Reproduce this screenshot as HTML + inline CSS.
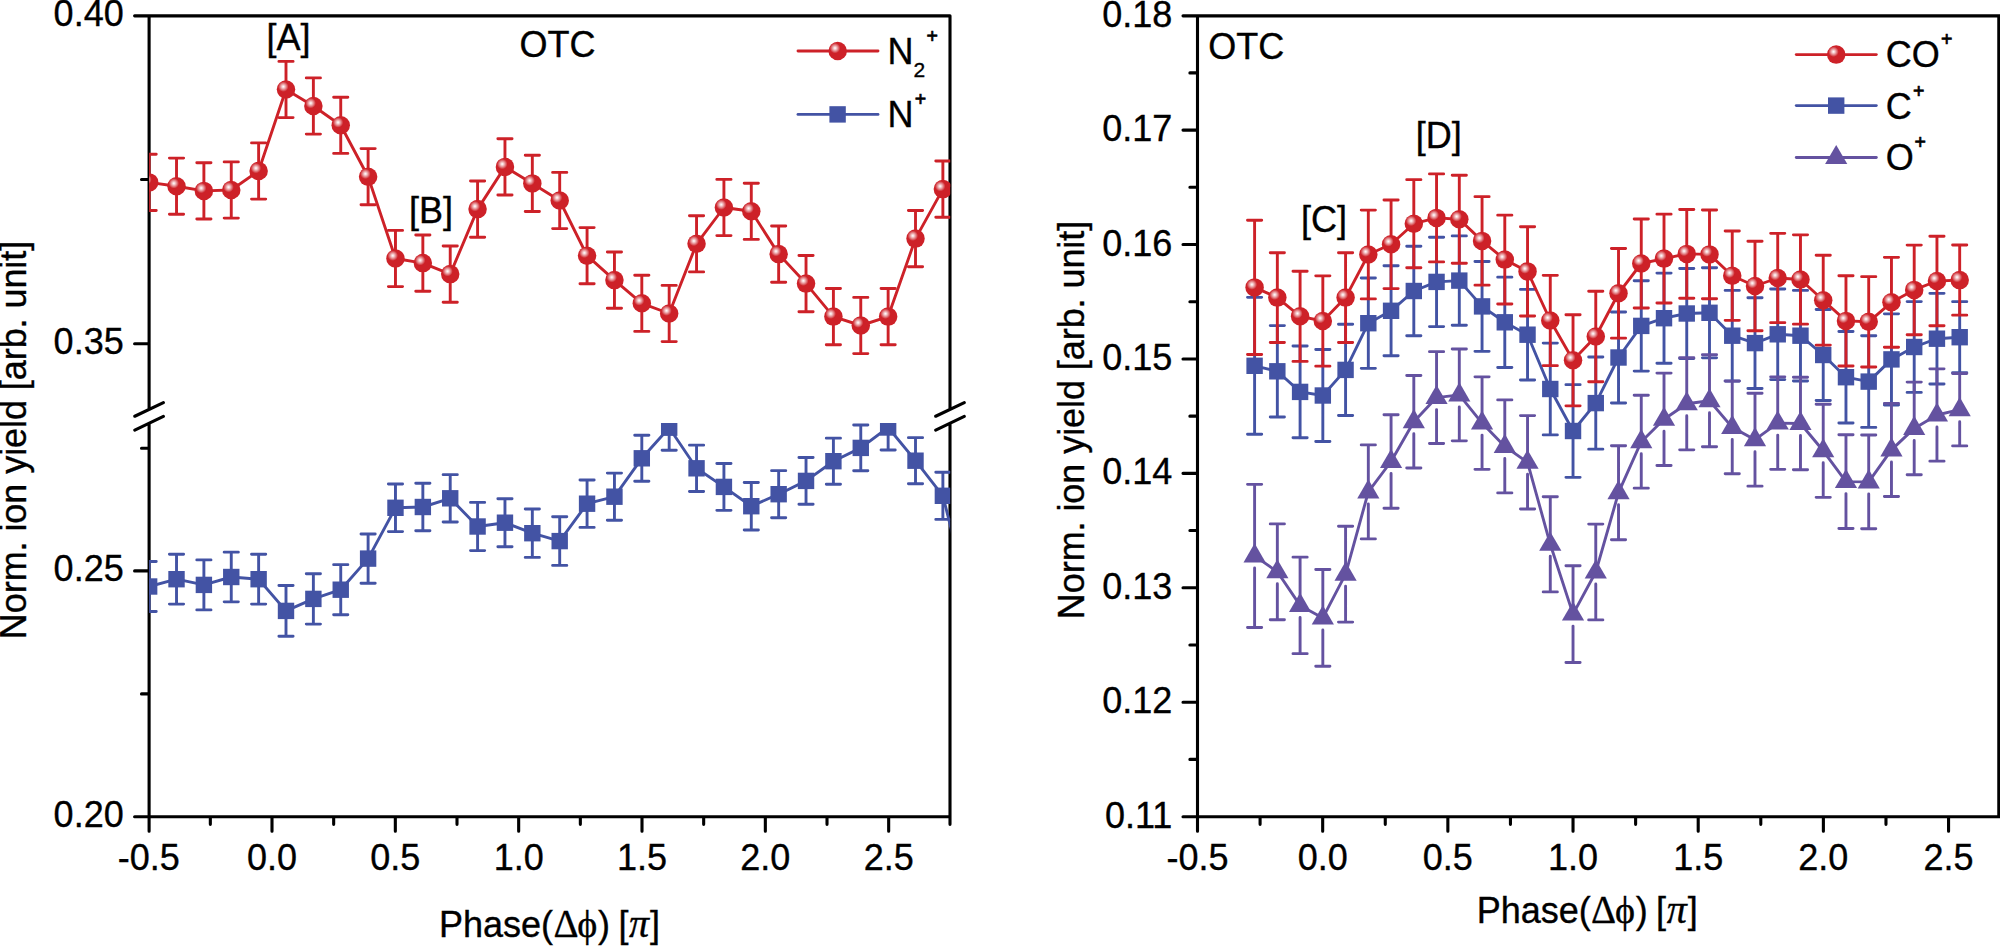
<!DOCTYPE html>
<html lang="en"><head><meta charset="utf-8"><title>Normalized ion yield vs phase</title>
<style>
html,body{margin:0;padding:0;background:#fff}
body{width:2000px;height:946px;overflow:hidden}
svg{display:block}
text{fill:#000;stroke:#000;stroke-width:0.35px}
</style></head><body>
<svg width="2000" height="946" viewBox="0 0 2000 946">
<defs>
<radialGradient id="ball" gradientUnits="objectBoundingBox" cx="0.355" cy="0.345" r="0.28" fx="0.355" fy="0.345">
<stop offset="0" stop-color="#ffffff"/><stop offset="0.2" stop-color="#f8dcdd"/><stop offset="0.55" stop-color="#e58d91"/><stop offset="1" stop-color="#cd2128"/>
</radialGradient>
<clipPath id="cLtop"><rect x="149.1" y="15.85" width="801.1" height="393.6"/></clipPath>
<clipPath id="cLbot"><rect x="149.1" y="423" width="801.1" height="393.6"/></clipPath>
<clipPath id="cR"><rect x="1197.5" y="15" width="801" height="802"/></clipPath>
</defs>
<rect width="2000" height="946" fill="#fff"/>

<g fill="none" stroke="#000" stroke-width="3.1" stroke-linecap="round" stroke-linejoin="round">
<path d="M134.6 15.85H950.0V409.4M950.0 423.3V816.75H134.6M149.1 15.85V409.4M149.1 423.3V831.25M272 816.75v14.5M395.33 816.75v14.5M518.67 816.75v14.5M642 816.75v14.5M765.34 816.75v14.5M888.67 816.75v14.5M210.33 816.75v7.6M333.67 816.75v7.6M457 816.75v7.6M580.34 816.75v7.6M703.67 816.75v7.6M827.01 816.75v7.6M950 816.75v7.6M149.1 343.8h-14.5M149.1 570.9h-14.5M149.1 179.5h-7.6M149.1 448.2h-7.6M149.1 693.9h-7.6M134.79999999999998 416.25L163.4 402.54999999999995M134.79999999999998 430.15000000000003L163.4 416.45M935.7 416.25L964.3 402.54999999999995M935.7 430.15000000000003L964.3 416.45"/></g>
<g clip-path="url(#cLbot)">
<path d="M149.15 561.48V611.52M142.05 561.48H156.25M142.05 611.52H156.25M176.52 554.3V604.1M169.42 554.3H183.62M169.42 604.1H183.62M203.89 559.91V609.89M196.79 559.91H210.99M196.79 609.89H210.99M231.26 552.13V601.87M224.16 552.13H238.36M224.16 601.87H238.36M258.63 554.3V604.1M251.53 554.3H265.73M251.53 604.1H265.73M286 585.5V636.3M278.9 585.5H293.1M278.9 636.3H293.1M313.37 573.69V624.11M306.27 573.69H320.47M306.27 624.11H320.47M340.74 564.63V614.77M333.64 564.63H347.84M333.64 614.77H347.84M368.11 534.02V583.18M361.01 534.02H375.21M361.01 583.18H375.21M395.48 484.02V531.58M388.38 484.02H402.58M388.38 531.58H402.58M422.85 483.23V530.77M415.75 483.23H429.95M415.75 530.77H429.95M450.22 474.67V521.93M443.12 474.67H457.32M443.12 521.93H457.32M477.59 502.42V550.58M470.49 502.42H484.69M470.49 550.58H484.69M504.96 498.68V546.72M497.86 498.68H512.06M497.86 546.72H512.06M532.33 509.02V557.38M525.23 509.02H539.43M525.23 557.38H539.43M559.7 516.8V565.4M552.6 516.8H566.8M552.6 565.4H566.8M587.07 479.98V527.42M579.97 479.98H594.17M579.97 527.42H594.17M614.44 473.09V520.31M607.34 473.09H621.54M607.34 520.31H621.54M641.81 435.3V481.3M634.71 435.3H648.91M634.71 481.3H648.91M669.18 405.18V450.22M662.08 405.18H676.28M662.08 450.22H676.28M696.55 445.14V491.46M689.45 445.14H703.65M689.45 491.46H703.65M723.92 463.45V510.35M716.82 463.45H731.02M716.82 510.35H731.02M751.29 482.44V529.96M744.19 482.44H758.39M744.19 529.96H758.39M778.66 470.63V517.77M771.56 470.63H785.76M771.56 517.77H785.76M806.03 457.54V504.26M798.93 457.54H813.13M798.93 504.26H813.13M833.4 438.15V484.25M826.3 438.15H840.5M826.3 484.25H840.5M860.77 425.06V470.74M853.67 425.06H867.87M853.67 470.74H867.87M888.14 404.98V450.02M881.04 404.98H895.24M881.04 450.02H895.24M915.51 437.66V483.74M908.41 437.66H922.61M908.41 483.74H922.61M942.88 472.21V519.39M935.78 472.21H949.98M935.78 519.39H949.98M970.25 579.69V630.31M963.15 579.69H977.35M963.15 630.31H977.35" fill="none" stroke="#4353a4" stroke-width="2.9" stroke-linecap="round"/>
<polyline points="149.15,586.5 176.52,579.2 203.89,584.9 231.26,577 258.63,579.2 286,610.9 313.37,598.9 340.74,589.7 368.11,558.6 395.48,507.8 422.85,507 450.22,498.3 477.59,526.5 504.96,522.7 532.33,533.2 559.7,541.1 587.07,503.7 614.44,496.7 641.81,458.3 669.18,427.7 696.55,468.3 723.92,486.9 751.29,506.2 778.66,494.2 806.03,480.9 833.4,461.2 860.77,447.9 888.14,427.5 915.51,460.7 942.88,495.8 970.25,605" fill="none" stroke="#4353a4" stroke-width="2.9" stroke-linejoin="round"/>
<rect x="140.95" y="578.3" width="16.4" height="16.4" fill="#4353a4"/>
<rect x="168.32" y="571" width="16.4" height="16.4" fill="#4353a4"/>
<rect x="195.69" y="576.7" width="16.4" height="16.4" fill="#4353a4"/>
<rect x="223.06" y="568.8" width="16.4" height="16.4" fill="#4353a4"/>
<rect x="250.43" y="571" width="16.4" height="16.4" fill="#4353a4"/>
<rect x="277.8" y="602.7" width="16.4" height="16.4" fill="#4353a4"/>
<rect x="305.17" y="590.7" width="16.4" height="16.4" fill="#4353a4"/>
<rect x="332.54" y="581.5" width="16.4" height="16.4" fill="#4353a4"/>
<rect x="359.91" y="550.4" width="16.4" height="16.4" fill="#4353a4"/>
<rect x="387.28" y="499.6" width="16.4" height="16.4" fill="#4353a4"/>
<rect x="414.65" y="498.8" width="16.4" height="16.4" fill="#4353a4"/>
<rect x="442.02" y="490.1" width="16.4" height="16.4" fill="#4353a4"/>
<rect x="469.39" y="518.3" width="16.4" height="16.4" fill="#4353a4"/>
<rect x="496.76" y="514.5" width="16.4" height="16.4" fill="#4353a4"/>
<rect x="524.13" y="525" width="16.4" height="16.4" fill="#4353a4"/>
<rect x="551.5" y="532.9" width="16.4" height="16.4" fill="#4353a4"/>
<rect x="578.87" y="495.5" width="16.4" height="16.4" fill="#4353a4"/>
<rect x="606.24" y="488.5" width="16.4" height="16.4" fill="#4353a4"/>
<rect x="633.61" y="450.1" width="16.4" height="16.4" fill="#4353a4"/>
<rect x="660.98" y="419.5" width="16.4" height="16.4" fill="#4353a4"/>
<rect x="688.35" y="460.1" width="16.4" height="16.4" fill="#4353a4"/>
<rect x="715.72" y="478.7" width="16.4" height="16.4" fill="#4353a4"/>
<rect x="743.09" y="498" width="16.4" height="16.4" fill="#4353a4"/>
<rect x="770.46" y="486" width="16.4" height="16.4" fill="#4353a4"/>
<rect x="797.83" y="472.7" width="16.4" height="16.4" fill="#4353a4"/>
<rect x="825.2" y="453" width="16.4" height="16.4" fill="#4353a4"/>
<rect x="852.57" y="439.7" width="16.4" height="16.4" fill="#4353a4"/>
<rect x="879.94" y="419.3" width="16.4" height="16.4" fill="#4353a4"/>
<rect x="907.31" y="452.5" width="16.4" height="16.4" fill="#4353a4"/>
<rect x="934.68" y="487.6" width="16.4" height="16.4" fill="#4353a4"/>
<rect x="962.05" y="596.8" width="16.4" height="16.4" fill="#4353a4"/>
</g>
<g clip-path="url(#cLtop)">
<path d="M149.15 154.3V210.5M142.05 154.3H156.25M142.05 210.5H156.25M176.52 158.1V214.3M169.42 158.1H183.62M169.42 214.3H183.62M203.89 162.8V219M196.79 162.8H210.99M196.79 219H210.99M231.26 161.9V218.1M224.16 161.9H238.36M224.16 218.1H238.36M258.63 142.9V199.1M251.53 142.9H265.73M251.53 199.1H265.73M286 61.4V117.6M278.9 61.4H293.1M278.9 117.6H293.1M313.37 77.9V134.1M306.27 77.9H320.47M306.27 134.1H320.47M340.74 97.2V153.4M333.64 97.2H347.84M333.64 153.4H347.84M368.11 148.6V204.8M361.01 148.6H375.21M361.01 204.8H375.21M395.48 230.4V286.6M388.38 230.4H402.58M388.38 286.6H402.58M422.85 235V291.2M415.75 235H429.95M415.75 291.2H429.95M450.22 246V302.2M443.12 246H457.32M443.12 302.2H457.32M477.59 181V237.2M470.49 181H484.69M470.49 237.2H484.69M504.96 138.8V195M497.86 138.8H512.06M497.86 195H512.06M532.33 155.3V211.5M525.23 155.3H539.43M525.23 211.5H539.43M559.7 172.4V228.6M552.6 172.4H566.8M552.6 228.6H566.8M587.07 227.6V283.8M579.97 227.6H594.17M579.97 283.8H594.17M614.44 252V308.2M607.34 252H621.54M607.34 308.2H621.54M641.81 275.2V331.4M634.71 275.2H648.91M634.71 331.4H648.91M669.18 285.4V341.6M662.08 285.4H676.28M662.08 341.6H676.28M696.55 215.7V271.9M689.45 215.7H703.65M689.45 271.9H703.65M723.92 179.4V235.6M716.82 179.4H731.02M716.82 235.6H731.02M751.29 183.2V239.4M744.19 183.2H758.39M744.19 239.4H758.39M778.66 226V282.2M771.56 226H785.76M771.56 282.2H785.76M806.03 255.5V311.7M798.93 255.5H813.13M798.93 311.7H813.13M833.4 288.5V344.7M826.3 288.5H840.5M826.3 344.7H840.5M860.77 297.4V353.6M853.67 297.4H867.87M853.67 353.6H867.87M888.14 288.5V344.7M881.04 288.5H895.24M881.04 344.7H895.24M915.51 210.5V266.7M908.41 210.5H922.61M908.41 266.7H922.61M942.88 161V217.2M935.78 161H949.98M935.78 217.2H949.98M970.25 147.2V203.4M963.15 147.2H977.35M963.15 203.4H977.35" fill="none" stroke="#cd2128" stroke-width="2.9" stroke-linecap="round"/>
<polyline points="149.15,182.4 176.52,186.2 203.89,190.9 231.26,190 258.63,171 286,89.5 313.37,106 340.74,125.3 368.11,176.7 395.48,258.5 422.85,263.1 450.22,274.1 477.59,209.1 504.96,166.9 532.33,183.4 559.7,200.5 587.07,255.7 614.44,280.1 641.81,303.3 669.18,313.5 696.55,243.8 723.92,207.5 751.29,211.3 778.66,254.1 806.03,283.6 833.4,316.6 860.77,325.5 888.14,316.6 915.51,238.6 942.88,189.1 970.25,175.3" fill="none" stroke="#cd2128" stroke-width="2.9" stroke-linejoin="round"/>
<circle cx="149.15" cy="182.4" r="9.25" fill="url(#ball)"/>
<circle cx="176.52" cy="186.2" r="9.25" fill="url(#ball)"/>
<circle cx="203.89" cy="190.9" r="9.25" fill="url(#ball)"/>
<circle cx="231.26" cy="190" r="9.25" fill="url(#ball)"/>
<circle cx="258.63" cy="171" r="9.25" fill="url(#ball)"/>
<circle cx="286" cy="89.5" r="9.25" fill="url(#ball)"/>
<circle cx="313.37" cy="106" r="9.25" fill="url(#ball)"/>
<circle cx="340.74" cy="125.3" r="9.25" fill="url(#ball)"/>
<circle cx="368.11" cy="176.7" r="9.25" fill="url(#ball)"/>
<circle cx="395.48" cy="258.5" r="9.25" fill="url(#ball)"/>
<circle cx="422.85" cy="263.1" r="9.25" fill="url(#ball)"/>
<circle cx="450.22" cy="274.1" r="9.25" fill="url(#ball)"/>
<circle cx="477.59" cy="209.1" r="9.25" fill="url(#ball)"/>
<circle cx="504.96" cy="166.9" r="9.25" fill="url(#ball)"/>
<circle cx="532.33" cy="183.4" r="9.25" fill="url(#ball)"/>
<circle cx="559.7" cy="200.5" r="9.25" fill="url(#ball)"/>
<circle cx="587.07" cy="255.7" r="9.25" fill="url(#ball)"/>
<circle cx="614.44" cy="280.1" r="9.25" fill="url(#ball)"/>
<circle cx="641.81" cy="303.3" r="9.25" fill="url(#ball)"/>
<circle cx="669.18" cy="313.5" r="9.25" fill="url(#ball)"/>
<circle cx="696.55" cy="243.8" r="9.25" fill="url(#ball)"/>
<circle cx="723.92" cy="207.5" r="9.25" fill="url(#ball)"/>
<circle cx="751.29" cy="211.3" r="9.25" fill="url(#ball)"/>
<circle cx="778.66" cy="254.1" r="9.25" fill="url(#ball)"/>
<circle cx="806.03" cy="283.6" r="9.25" fill="url(#ball)"/>
<circle cx="833.4" cy="316.6" r="9.25" fill="url(#ball)"/>
<circle cx="860.77" cy="325.5" r="9.25" fill="url(#ball)"/>
<circle cx="888.14" cy="316.6" r="9.25" fill="url(#ball)"/>
<circle cx="915.51" cy="238.6" r="9.25" fill="url(#ball)"/>
<circle cx="942.88" cy="189.1" r="9.25" fill="url(#ball)"/>
<circle cx="970.25" cy="175.3" r="9.25" fill="url(#ball)"/>
</g>
<g font-family="Liberation Sans, sans-serif" font-size="36">
<text x="148.67" y="869.6" text-anchor="middle">-0.5</text>
<text x="272" y="869.6" text-anchor="middle">0.0</text>
<text x="395.33" y="869.6" text-anchor="middle">0.5</text>
<text x="518.67" y="869.6" text-anchor="middle">1.0</text>
<text x="642" y="869.6" text-anchor="middle">1.5</text>
<text x="765.34" y="869.6" text-anchor="middle">2.0</text>
<text x="888.67" y="869.6" text-anchor="middle">2.5</text>
<text x="123.7" y="26" text-anchor="end">0.40</text>
<text x="123.7" y="354.1" text-anchor="end">0.35</text>
<text x="123.7" y="581.2" text-anchor="end">0.25</text>
<text x="123.7" y="826.9" text-anchor="end">0.20</text>
<text transform="translate(26 440.0) rotate(-90)" text-anchor="middle" letter-spacing="-0.07">Norm. ion yield [arb. unit]</text>
<text y="937.2"><tspan x="439.05">Phase(</tspan><tspan x="553.4" font-family="Liberation Serif, serif" font-size="39">Δ</tspan><tspan x="577.3" font-family="Liberation Serif, serif" font-size="38">ϕ</tspan><tspan x="598">)</tspan><tspan x="618.4">[</tspan><tspan x="629.1" font-family="Liberation Serif, serif" font-style="italic" font-size="40">π</tspan><tspan x="650">]</tspan></text>
<text x="266.5" y="50">[A]</text>
<text x="409" y="222.7">[B]</text>
<text x="519.6" y="56.5">OTC</text>
<text x="887.6" y="63.8">N<tspan font-size="21" dy="13.4">2</tspan><tspan font-size="19.6" stroke-width="0.7" dy="-34.4" dx="1.3">+</tspan></text>
<text x="887.6" y="126.8">N<tspan font-size="19.6" stroke-width="0.7" dy="-20.5" dx="1.2">+</tspan></text>
</g>
<path d="M798 51H878" stroke="#cd2128" stroke-width="2.9" stroke-linecap="round"/>
<circle cx="837.7" cy="51" r="9.25" fill="url(#ball)"/>
<path d="M798 114.4H878" stroke="#4353a4" stroke-width="2.9" stroke-linecap="round"/>
<rect x="829.4" y="106.2" width="16.4" height="16.4" fill="#4353a4"/>
<g fill="none" stroke="#000" stroke-width="3.1" stroke-linecap="round">
<path d="M1183.0 15.85H1998.8V816.75H1183.0M1197.5 15.85V831.25M1322.68 816.75v14.5M1447.86 816.75v14.5M1573.03 816.75v14.5M1698.2 816.75v14.5M1823.38 816.75v14.5M1948.56 816.75v14.5M1260.09 816.75v7.6M1385.27 816.75v7.6M1510.44 816.75v7.6M1635.62 816.75v7.6M1760.79 816.75v7.6M1885.97 816.75v7.6M1197.5 130.11h-14.5M1197.5 244.53h-14.5M1197.5 358.94h-14.5M1197.5 473.36h-14.5M1197.5 587.77h-14.5M1197.5 702.18h-14.5M1197.5 72.91h-7.6M1197.5 187.32h-7.6M1197.5 301.73h-7.6M1197.5 416.15h-7.6M1197.5 530.56h-7.6M1197.5 644.98h-7.6M1197.5 759.39h-7.6"/></g>
<g clip-path="url(#cR)">
<path d="M1254.6 297.36V434.24M1247.5 297.36H1261.7M1247.5 434.24H1261.7M1277.34 325.62V416.98M1270.24 325.62H1284.44M1270.24 416.98H1284.44M1300.09 345.99V437.81M1292.99 345.99H1307.19M1292.99 437.81H1307.19M1322.83 349.55V441.45M1315.73 349.55H1329.93M1315.73 441.45H1329.93M1345.58 324.23V415.57M1338.48 324.23H1352.68M1338.48 415.57H1352.68M1368.32 278.04V368.36M1361.22 278.04H1375.42M1361.22 368.36H1375.42M1391.07 265.78V355.82M1383.97 265.78H1398.17M1383.97 355.82H1398.17M1413.81 246.2V335.8M1406.71 246.2H1420.91M1406.71 335.8H1420.91M1436.56 237.2V326.6M1429.46 237.2H1443.66M1429.46 326.6H1443.66M1459.3 235.91V325.29M1452.2 235.91H1466.4M1452.2 325.29H1466.4M1482.05 261.43V351.37M1474.95 261.43H1489.15M1474.95 351.37H1489.15M1504.79 277.15V367.45M1497.69 277.15H1511.89M1497.69 367.45H1511.89M1527.54 289.42V379.98M1520.44 289.42H1534.64M1520.44 379.98H1534.64M1550.28 343.12V434.88M1543.18 343.12H1557.38M1543.18 434.88H1557.38M1573.03 384.66V477.34M1565.93 384.66H1580.13M1565.93 477.34H1580.13M1595.77 357.07V449.13M1588.67 357.07H1602.87M1588.67 449.13H1602.87M1618.52 311.97V403.03M1611.42 311.97H1625.62M1611.42 403.03H1625.62M1641.26 280.72V371.08M1634.16 280.72H1648.36M1634.16 371.08H1648.36M1664.01 273.1V363.3M1656.91 273.1H1671.11M1656.91 363.3H1671.11M1686.75 268.45V358.55M1679.65 268.45H1693.85M1679.65 358.55H1693.85M1709.5 267.76V357.84M1702.4 267.76H1716.6M1702.4 357.84H1716.6M1732.24 290.41V380.99M1725.14 290.41H1739.34M1725.14 380.99H1739.34M1754.99 297.73V388.47M1747.89 297.73H1762.09M1747.89 388.47H1762.09M1777.73 289.02V379.58M1770.63 289.02H1784.83M1770.63 379.58H1784.83M1800.48 290.41V380.99M1793.38 290.41H1807.58M1793.38 380.99H1807.58M1823.22 309.5V400.5M1816.12 309.5H1830.32M1816.12 400.5H1830.32M1845.97 331.45V422.95M1838.87 331.45H1853.07M1838.87 422.95H1853.07M1868.71 335.8V427.4M1861.62 335.8H1875.81M1861.62 427.4H1875.81M1891.46 313.85V404.95M1884.36 313.85H1898.56M1884.36 404.95H1898.56M1914.2 301.58V392.42M1907.11 301.58H1921.3M1907.11 392.42H1921.3M1936.95 293.37V384.03M1929.85 293.37H1944.05M1929.85 384.03H1944.05M1959.69 301.63V372.77M1952.6 301.63H1966.79M1952.6 372.77H1966.79" fill="none" stroke="#4353a4" stroke-width="2.9" stroke-linecap="round"/>
<polyline points="1254.6,365.8 1277.34,371.3 1300.09,391.9 1322.83,395.5 1345.58,369.9 1368.32,323.2 1391.07,310.8 1413.81,291 1436.56,281.9 1459.3,280.6 1482.05,306.4 1504.79,322.3 1527.54,334.7 1550.28,389 1573.03,431 1595.77,403.1 1618.52,357.5 1641.26,325.9 1664.01,318.2 1686.75,313.5 1709.5,312.8 1732.24,335.7 1754.99,343.1 1777.73,334.3 1800.48,335.7 1823.22,355 1845.97,377.2 1868.71,381.6 1891.46,359.4 1914.2,347 1936.95,338.7 1959.69,337.2" fill="none" stroke="#4353a4" stroke-width="2.9" stroke-linejoin="round"/>
<rect x="1246.4" y="357.6" width="16.4" height="16.4" fill="#4353a4"/>
<rect x="1269.14" y="363.1" width="16.4" height="16.4" fill="#4353a4"/>
<rect x="1291.89" y="383.7" width="16.4" height="16.4" fill="#4353a4"/>
<rect x="1314.63" y="387.3" width="16.4" height="16.4" fill="#4353a4"/>
<rect x="1337.38" y="361.7" width="16.4" height="16.4" fill="#4353a4"/>
<rect x="1360.12" y="315" width="16.4" height="16.4" fill="#4353a4"/>
<rect x="1382.87" y="302.6" width="16.4" height="16.4" fill="#4353a4"/>
<rect x="1405.61" y="282.8" width="16.4" height="16.4" fill="#4353a4"/>
<rect x="1428.36" y="273.7" width="16.4" height="16.4" fill="#4353a4"/>
<rect x="1451.1" y="272.4" width="16.4" height="16.4" fill="#4353a4"/>
<rect x="1473.85" y="298.2" width="16.4" height="16.4" fill="#4353a4"/>
<rect x="1496.59" y="314.1" width="16.4" height="16.4" fill="#4353a4"/>
<rect x="1519.34" y="326.5" width="16.4" height="16.4" fill="#4353a4"/>
<rect x="1542.08" y="380.8" width="16.4" height="16.4" fill="#4353a4"/>
<rect x="1564.83" y="422.8" width="16.4" height="16.4" fill="#4353a4"/>
<rect x="1587.57" y="394.9" width="16.4" height="16.4" fill="#4353a4"/>
<rect x="1610.32" y="349.3" width="16.4" height="16.4" fill="#4353a4"/>
<rect x="1633.06" y="317.7" width="16.4" height="16.4" fill="#4353a4"/>
<rect x="1655.81" y="310" width="16.4" height="16.4" fill="#4353a4"/>
<rect x="1678.55" y="305.3" width="16.4" height="16.4" fill="#4353a4"/>
<rect x="1701.3" y="304.6" width="16.4" height="16.4" fill="#4353a4"/>
<rect x="1724.04" y="327.5" width="16.4" height="16.4" fill="#4353a4"/>
<rect x="1746.79" y="334.9" width="16.4" height="16.4" fill="#4353a4"/>
<rect x="1769.53" y="326.1" width="16.4" height="16.4" fill="#4353a4"/>
<rect x="1792.28" y="327.5" width="16.4" height="16.4" fill="#4353a4"/>
<rect x="1815.02" y="346.8" width="16.4" height="16.4" fill="#4353a4"/>
<rect x="1837.77" y="369" width="16.4" height="16.4" fill="#4353a4"/>
<rect x="1860.51" y="373.4" width="16.4" height="16.4" fill="#4353a4"/>
<rect x="1883.26" y="351.2" width="16.4" height="16.4" fill="#4353a4"/>
<rect x="1906" y="338.8" width="16.4" height="16.4" fill="#4353a4"/>
<rect x="1928.75" y="330.5" width="16.4" height="16.4" fill="#4353a4"/>
<rect x="1951.49" y="329" width="16.4" height="16.4" fill="#4353a4"/>
<path d="M1254.6 484.33V555.9M1254.6 567.9V627.47M1247.5 484.33H1261.7M1247.5 627.47H1261.7M1277.34 523.91V571.8M1277.34 583.8V619.69M1270.24 523.91H1284.44M1270.24 619.69H1284.44M1300.09 557.14V605.4M1300.09 617.4V653.66M1292.99 557.14H1307.19M1292.99 653.66H1307.19M1322.83 569.5V617.9M1322.83 629.9V666.3M1315.73 569.5H1329.93M1315.73 666.3H1329.93M1345.58 526.28V574.2M1345.58 586.2V622.12M1338.48 526.28H1352.68M1338.48 622.12H1352.68M1368.32 444.89V491.9M1368.32 503.9V538.91M1361.22 444.89H1375.42M1361.22 538.91H1375.42M1391.07 414.82V461.5M1391.07 473.5V508.18M1383.97 414.82H1398.17M1383.97 508.18H1398.17M1413.81 375.46V421.7M1413.81 433.7V467.94M1406.71 375.46H1420.91M1406.71 467.94H1420.91M1436.56 351.63V397.6M1436.56 409.6V443.57M1429.46 351.63H1443.66M1429.46 443.57H1443.66M1459.3 348.96V394.9M1459.3 406.9V440.84M1452.2 348.96H1466.4M1452.2 440.84H1466.4M1482.05 376.85V423.1M1482.05 435.1V469.35M1474.95 376.85H1489.15M1474.95 469.35H1489.15M1504.79 399.89V446.4M1504.79 458.4V492.91M1497.69 399.89H1511.89M1497.69 492.91H1511.89M1527.54 415.61V462.3M1527.54 474.3V508.99M1520.44 415.61H1534.64M1520.44 508.99H1534.64M1550.28 496.71V544.3M1550.28 556.3V591.89M1543.18 496.71H1557.38M1543.18 591.89H1557.38M1573.03 565.74V614.1M1573.03 626.1V662.46M1565.93 565.74H1580.13M1565.93 662.46H1580.13M1595.77 524.11V572M1595.77 584V619.89M1588.67 524.11H1602.87M1588.67 619.89H1602.87M1618.52 445.68V492.7M1618.52 504.7V539.72M1611.42 445.68H1625.62M1611.42 539.72H1625.62M1641.26 395.24V441.7M1641.26 453.7V488.16M1634.16 395.24H1648.36M1634.16 488.16H1648.36M1664.01 373.09V419.3M1664.01 431.3V465.51M1656.91 373.09H1671.11M1656.91 465.51H1671.11M1686.75 357.76V403.8M1686.75 415.8V449.84M1679.65 357.76H1693.85M1679.65 449.84H1693.85M1709.5 354.79V400.8M1709.5 412.8V446.81M1702.4 354.79H1716.6M1702.4 446.81H1716.6M1732.24 381.1V427.4M1732.24 439.4V473.7M1725.14 381.1H1739.34M1725.14 473.7H1739.34M1754.99 393.26V439.7M1754.99 451.7V486.14M1747.89 393.26H1762.09M1747.89 486.14H1762.09M1777.73 376.85V423.1M1777.73 435.1V469.35M1770.63 376.85H1784.83M1770.63 469.35H1784.83M1800.48 377.24V423.5M1800.48 435.5V469.76M1793.38 377.24H1807.58M1793.38 469.76H1807.58M1823.22 404.24V450.8M1823.22 462.8V497.36M1816.12 404.24H1830.32M1816.12 497.36H1830.32M1845.97 434.7V481.6M1845.97 493.6V528.5M1838.87 434.7H1853.07M1838.87 528.5H1853.07M1868.71 435V481.9M1868.71 493.9V528.8M1861.62 435H1875.81M1861.62 528.8H1875.81M1891.46 403.35V449.9M1891.46 461.9V496.45M1884.36 403.35H1898.56M1884.36 496.45H1898.56M1914.2 382.09V428.4M1914.2 440.4V474.71M1907.11 382.09H1921.3M1907.11 474.71H1921.3M1936.95 368.83V415M1936.95 427V461.17M1929.85 368.83H1944.05M1929.85 461.17H1944.05M1959.69 373.51V409.7M1959.69 421.7V445.89M1952.6 373.51H1966.79M1952.6 445.89H1966.79" fill="none" stroke="#6452a0" stroke-width="2.9" stroke-linecap="round"/>
<polyline points="1254.6,555.9 1277.34,571.8 1300.09,605.4 1322.83,617.9 1345.58,574.2 1368.32,491.9 1391.07,461.5 1413.81,421.7 1436.56,397.6 1459.3,394.9 1482.05,423.1 1504.79,446.4 1527.54,462.3 1550.28,544.3 1573.03,614.1 1595.77,572 1618.52,492.7 1641.26,441.7 1664.01,419.3 1686.75,403.8 1709.5,400.8 1732.24,427.4 1754.99,439.7 1777.73,423.1 1800.48,423.5 1823.22,450.8 1845.97,481.6 1868.71,481.9 1891.46,449.9 1914.2,428.4 1936.95,415 1959.69,409.7" fill="none" stroke="#6452a0" stroke-width="2.9" stroke-linejoin="round"/>
<path d="M1254.6 543.3L1265.7 562.4H1243.5Z" fill="#6452a0"/>
<path d="M1277.34 559.2L1288.44 578.3H1266.24Z" fill="#6452a0"/>
<path d="M1300.09 592.8L1311.19 611.9H1288.99Z" fill="#6452a0"/>
<path d="M1322.83 605.3L1333.93 624.4H1311.73Z" fill="#6452a0"/>
<path d="M1345.58 561.6L1356.68 580.7H1334.48Z" fill="#6452a0"/>
<path d="M1368.32 479.3L1379.42 498.4H1357.22Z" fill="#6452a0"/>
<path d="M1391.07 448.9L1402.17 468H1379.97Z" fill="#6452a0"/>
<path d="M1413.81 409.1L1424.91 428.2H1402.71Z" fill="#6452a0"/>
<path d="M1436.56 385L1447.66 404.1H1425.46Z" fill="#6452a0"/>
<path d="M1459.3 382.3L1470.4 401.4H1448.2Z" fill="#6452a0"/>
<path d="M1482.05 410.5L1493.15 429.6H1470.95Z" fill="#6452a0"/>
<path d="M1504.79 433.8L1515.89 452.9H1493.69Z" fill="#6452a0"/>
<path d="M1527.54 449.7L1538.64 468.8H1516.44Z" fill="#6452a0"/>
<path d="M1550.28 531.7L1561.38 550.8H1539.18Z" fill="#6452a0"/>
<path d="M1573.03 601.5L1584.13 620.6H1561.93Z" fill="#6452a0"/>
<path d="M1595.77 559.4L1606.87 578.5H1584.67Z" fill="#6452a0"/>
<path d="M1618.52 480.1L1629.62 499.2H1607.42Z" fill="#6452a0"/>
<path d="M1641.26 429.1L1652.36 448.2H1630.16Z" fill="#6452a0"/>
<path d="M1664.01 406.7L1675.11 425.8H1652.91Z" fill="#6452a0"/>
<path d="M1686.75 391.2L1697.85 410.3H1675.65Z" fill="#6452a0"/>
<path d="M1709.5 388.2L1720.6 407.3H1698.4Z" fill="#6452a0"/>
<path d="M1732.24 414.8L1743.34 433.9H1721.14Z" fill="#6452a0"/>
<path d="M1754.99 427.1L1766.09 446.2H1743.89Z" fill="#6452a0"/>
<path d="M1777.73 410.5L1788.83 429.6H1766.63Z" fill="#6452a0"/>
<path d="M1800.48 410.9L1811.58 430H1789.38Z" fill="#6452a0"/>
<path d="M1823.22 438.2L1834.32 457.3H1812.12Z" fill="#6452a0"/>
<path d="M1845.97 469L1857.07 488.1H1834.87Z" fill="#6452a0"/>
<path d="M1868.71 469.3L1879.81 488.4H1857.62Z" fill="#6452a0"/>
<path d="M1891.46 437.3L1902.56 456.4H1880.36Z" fill="#6452a0"/>
<path d="M1914.2 415.8L1925.3 434.9H1903.11Z" fill="#6452a0"/>
<path d="M1936.95 402.4L1948.05 421.5H1925.85Z" fill="#6452a0"/>
<path d="M1959.69 397.1L1970.79 416.2H1948.6Z" fill="#6452a0"/>
<path d="M1254.6 220.26V354.54M1247.5 220.26H1261.7M1247.5 354.54H1261.7M1277.34 252.73V342.47M1270.24 252.73H1284.44M1270.24 342.47H1284.44M1300.09 271.22V361.38M1292.99 271.22H1307.19M1292.99 361.38H1307.19M1322.83 275.87V366.13M1315.73 275.87H1329.93M1315.73 366.13H1329.93M1345.58 252.73V342.47M1338.48 252.73H1352.68M1338.48 342.47H1352.68M1368.32 210.1V298.9M1361.22 210.1H1375.42M1361.22 298.9H1375.42M1391.07 200.01V288.59M1383.97 200.01H1398.17M1383.97 288.59H1398.17M1413.81 179.64V267.76M1406.71 179.64H1420.91M1406.71 267.76H1420.91M1436.56 173.9V261.9M1429.46 173.9H1443.66M1429.46 261.9H1443.66M1459.3 175.29V263.31M1452.2 175.29H1466.4M1452.2 263.31H1466.4M1482.05 196.65V285.15M1474.95 196.65H1489.15M1474.95 285.15H1489.15M1504.79 215.14V304.06M1497.69 215.14H1511.89M1497.69 304.06H1511.89M1527.54 226.81V315.99M1520.44 226.81H1534.64M1520.44 315.99H1534.64M1550.28 275.37V365.63M1543.18 275.37H1557.38M1543.18 365.63H1557.38M1573.03 314.74V405.86M1565.93 314.74H1580.13M1565.93 405.86H1580.13M1595.77 291.2V381.8M1588.67 291.2H1602.87M1588.67 381.8H1602.87M1618.52 248.47V338.13M1611.42 248.47H1625.62M1611.42 338.13H1625.62M1641.26 219V308M1634.16 219H1648.36M1634.16 308H1648.36M1664.01 214.16V303.04M1656.91 214.16H1671.11M1656.91 303.04H1671.11M1686.75 209.51V298.29M1679.65 209.51H1693.85M1679.65 298.29H1693.85M1709.5 210V298.8M1702.4 210H1716.6M1702.4 298.8H1716.6M1732.24 231.07V320.33M1725.14 231.07H1739.34M1725.14 320.33H1739.34M1754.99 241.25V330.75M1747.89 241.25H1762.09M1747.89 330.75H1762.09M1777.73 233.34V322.66M1770.63 233.34H1784.83M1770.63 322.66H1784.83M1800.48 234.83V324.17M1793.38 234.83H1807.58M1793.38 324.17H1807.58M1823.22 255.3V345.1M1816.12 255.3H1830.32M1816.12 345.1H1830.32M1845.97 275.77V366.03M1838.87 275.77H1853.07M1838.87 366.03H1853.07M1868.71 276.66V366.94M1861.62 276.66H1875.81M1861.62 366.94H1875.81M1891.46 257.37V347.23M1884.36 257.37H1898.56M1884.36 347.23H1898.56M1914.2 245.11V334.69M1907.11 245.11H1921.3M1907.11 334.69H1921.3M1936.95 236.31V325.69M1929.85 236.31H1944.05M1929.85 325.69H1944.05M1959.69 245.03V315.17M1952.6 245.03H1966.79M1952.6 315.17H1966.79" fill="none" stroke="#cd2128" stroke-width="2.9" stroke-linecap="round"/>
<polyline points="1254.6,287.4 1277.34,297.6 1300.09,316.3 1322.83,321 1345.58,297.6 1368.32,254.5 1391.07,244.3 1413.81,223.7 1436.56,217.9 1459.3,219.3 1482.05,240.9 1504.79,259.6 1527.54,271.4 1550.28,320.5 1573.03,360.3 1595.77,336.5 1618.52,293.3 1641.26,263.5 1664.01,258.6 1686.75,253.9 1709.5,254.4 1732.24,275.7 1754.99,286 1777.73,278 1800.48,279.5 1823.22,300.2 1845.97,320.9 1868.71,321.8 1891.46,302.3 1914.2,289.9 1936.95,281 1959.69,280.1" fill="none" stroke="#cd2128" stroke-width="2.9" stroke-linejoin="round"/>
<circle cx="1254.6" cy="287.4" r="9.25" fill="url(#ball)"/>
<circle cx="1277.34" cy="297.6" r="9.25" fill="url(#ball)"/>
<circle cx="1300.09" cy="316.3" r="9.25" fill="url(#ball)"/>
<circle cx="1322.83" cy="321" r="9.25" fill="url(#ball)"/>
<circle cx="1345.58" cy="297.6" r="9.25" fill="url(#ball)"/>
<circle cx="1368.32" cy="254.5" r="9.25" fill="url(#ball)"/>
<circle cx="1391.07" cy="244.3" r="9.25" fill="url(#ball)"/>
<circle cx="1413.81" cy="223.7" r="9.25" fill="url(#ball)"/>
<circle cx="1436.56" cy="217.9" r="9.25" fill="url(#ball)"/>
<circle cx="1459.3" cy="219.3" r="9.25" fill="url(#ball)"/>
<circle cx="1482.05" cy="240.9" r="9.25" fill="url(#ball)"/>
<circle cx="1504.79" cy="259.6" r="9.25" fill="url(#ball)"/>
<circle cx="1527.54" cy="271.4" r="9.25" fill="url(#ball)"/>
<circle cx="1550.28" cy="320.5" r="9.25" fill="url(#ball)"/>
<circle cx="1573.03" cy="360.3" r="9.25" fill="url(#ball)"/>
<circle cx="1595.77" cy="336.5" r="9.25" fill="url(#ball)"/>
<circle cx="1618.52" cy="293.3" r="9.25" fill="url(#ball)"/>
<circle cx="1641.26" cy="263.5" r="9.25" fill="url(#ball)"/>
<circle cx="1664.01" cy="258.6" r="9.25" fill="url(#ball)"/>
<circle cx="1686.75" cy="253.9" r="9.25" fill="url(#ball)"/>
<circle cx="1709.5" cy="254.4" r="9.25" fill="url(#ball)"/>
<circle cx="1732.24" cy="275.7" r="9.25" fill="url(#ball)"/>
<circle cx="1754.99" cy="286" r="9.25" fill="url(#ball)"/>
<circle cx="1777.73" cy="278" r="9.25" fill="url(#ball)"/>
<circle cx="1800.48" cy="279.5" r="9.25" fill="url(#ball)"/>
<circle cx="1823.22" cy="300.2" r="9.25" fill="url(#ball)"/>
<circle cx="1845.97" cy="320.9" r="9.25" fill="url(#ball)"/>
<circle cx="1868.71" cy="321.8" r="9.25" fill="url(#ball)"/>
<circle cx="1891.46" cy="302.3" r="9.25" fill="url(#ball)"/>
<circle cx="1914.2" cy="289.9" r="9.25" fill="url(#ball)"/>
<circle cx="1936.95" cy="281" r="9.25" fill="url(#ball)"/>
<circle cx="1959.69" cy="280.1" r="9.25" fill="url(#ball)"/>
</g>
<g font-family="Liberation Sans, sans-serif" font-size="36">
<text x="1197.51" y="869.6" text-anchor="middle">-0.5</text>
<text x="1322.68" y="869.6" text-anchor="middle">0.0</text>
<text x="1447.86" y="869.6" text-anchor="middle">0.5</text>
<text x="1573.03" y="869.6" text-anchor="middle">1.0</text>
<text x="1698.2" y="869.6" text-anchor="middle">1.5</text>
<text x="1823.38" y="869.6" text-anchor="middle">2.0</text>
<text x="1948.56" y="869.6" text-anchor="middle">2.5</text>
<text x="1172.4" y="26.7" text-anchor="end">0.18</text>
<text x="1172.4" y="141.11" text-anchor="end">0.17</text>
<text x="1172.4" y="255.53" text-anchor="end">0.16</text>
<text x="1172.4" y="369.94" text-anchor="end">0.15</text>
<text x="1172.4" y="484.36" text-anchor="end">0.14</text>
<text x="1172.4" y="598.77" text-anchor="end">0.13</text>
<text x="1172.4" y="713.18" text-anchor="end">0.12</text>
<text x="1172.4" y="827.6" text-anchor="end">0.11</text>
<text transform="translate(1084.4 420.0) rotate(-90)" text-anchor="middle" letter-spacing="-0.07">Norm. ion yield [arb. unit]</text>
<text y="923.3"><tspan x="1476.75">Phase(</tspan><tspan x="1591.1" font-family="Liberation Serif, serif" font-size="39">Δ</tspan><tspan x="1615" font-family="Liberation Serif, serif" font-size="38">ϕ</tspan><tspan x="1635.7">)</tspan><tspan x="1656.1">[</tspan><tspan x="1666.8" font-family="Liberation Serif, serif" font-style="italic" font-size="40">π</tspan><tspan x="1687.7">]</tspan></text>
<text x="1208.3" y="59.2">OTC</text>
<text x="1301" y="231.6">[C]</text>
<text x="1415.7" y="147.6">[D]</text>
<text x="1885.7" y="66.9">CO<tspan font-size="19.6" stroke-width="0.7" dy="-21.3" dx="1.3">+</tspan></text>
<text x="1885.7" y="118.5">C<tspan font-size="19.6" stroke-width="0.7" dy="-20.5" dx="1.2">+</tspan></text>
<text x="1885.7" y="170.1">O<tspan font-size="19.6" stroke-width="0.7" dy="-21.2" dx="0.8">+</tspan></text>
</g>
<path d="M1796.3 54.6H1876.3" stroke="#cd2128" stroke-width="2.9" stroke-linecap="round"/>
<circle cx="1836.2" cy="54.6" r="9.25" fill="url(#ball)"/>
<path d="M1796.3 105.6H1876.3" stroke="#4353a4" stroke-width="2.9" stroke-linecap="round"/>
<rect x="1828" y="97.4" width="16.4" height="16.4" fill="#4353a4"/>
<path d="M1796.3 157.5H1876.3" stroke="#6452a0" stroke-width="2.9" stroke-linecap="round"/>
<path d="M1836.2 144.9L1847.3 164H1825.1Z" fill="#6452a0"/>
</svg></body></html>
